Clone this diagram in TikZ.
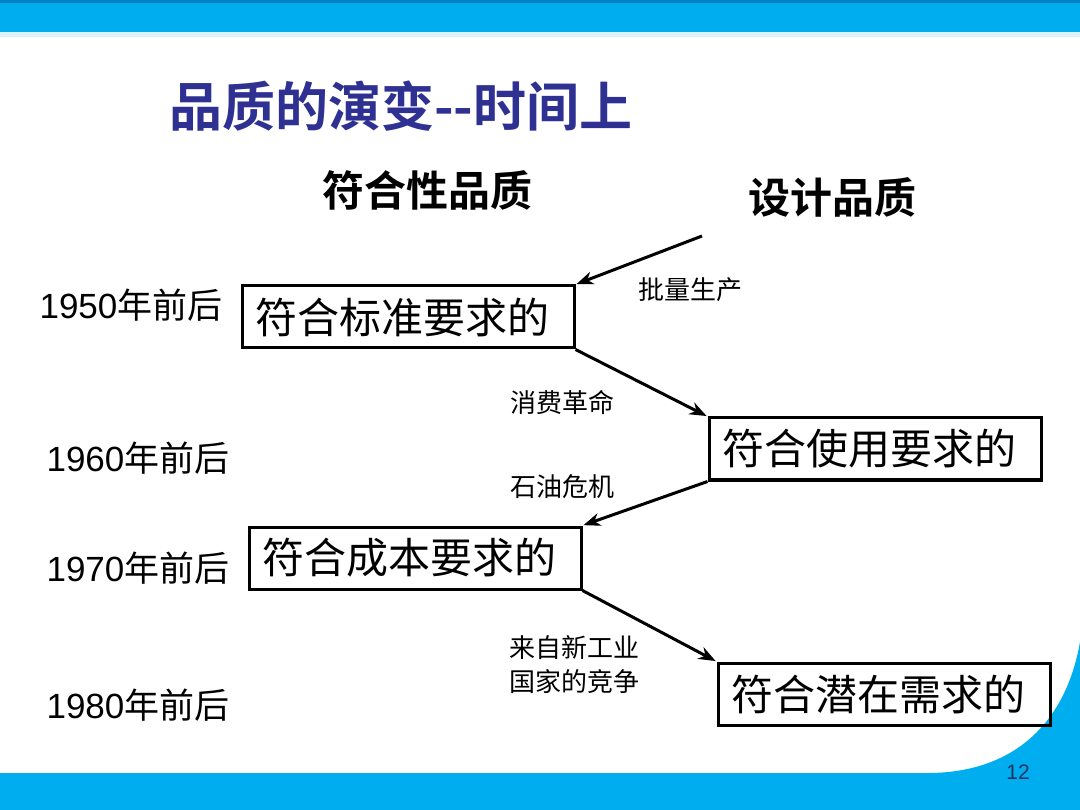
\documentclass[tikz,border=0pt]{standalone}
\usepackage{fontspec}
\setmainfont{Liberation Sans}
\newfontfamily\cjk{Noto Sans CJK SC}
\newfontfamily\cjkbold{Noto Sans CJK SC Bold}
\usetikzlibrary{arrows.meta}
\definecolor{barblue}{RGB}{0,174,239}
\definecolor{bardark}{RGB}{0,128,196}
\definecolor{barlight}{RGB}{222,242,252}
\definecolor{titleblue}{RGB}{46,49,146}
\definecolor{pagenum}{RGB}{30,50,100}
\tikzset{
  stagebox/.style={draw=black, line width=3pt, minimum height=62pt,
    text width=306pt, align=left, inner xsep=13pt, inner ysep=0pt,
    font=\cjk\fontsize{42}{48}\selectfont},
  yearlabel/.style={inner sep=0pt, font=\fontsize{35}{40}\selectfont},
  causelabel/.style={inner sep=0pt, font=\cjk\fontsize{26}{34}\selectfont},
  headlabel/.style={inner sep=0pt, font=\cjkbold\fontsize{42}{48}\selectfont},
  flowarrow/.style={line width=3pt, -{Stealth[length=17pt,width=13pt]}, shorten >=1pt}
}
\begin{document}
\begin{tikzpicture}[x=1pt,y=-1pt]
\useasboundingbox (0,0) rectangle (1080,810);
% top bar
\fill[barblue] (0,0) rectangle (1080,32);
\fill[bardark] (0,0) rectangle (1080,3);
\fill[barlight] (0,32) rectangle (1080,37);
% bottom bar with curved rise
\fill[barblue] (0,773) -- (930,773) .. controls (1015,772) and (1066,722) .. (1080,642)
  -- (1080,810) -- (0,810) -- cycle;
\node[inner sep=0pt, text=pagenum, font=\fontsize{21}{24}\selectfont] (pg) at (1018,772) {12};

% title
\node[inner sep=0pt, text=titleblue, font=\cjkbold\fontsize{53}{60}\selectfont] (title) at (401,106) {品质的演变--时间上};

% headers
\node[headlabel] (hconf) at (427,190) {符合性品质};
\node[headlabel] (hdes) at (832,197) {设计品质};

% year labels
\node[yearlabel] (y50) at (131,305) {1950\cjk 年前后};
\node[yearlabel] (y60) at (138,458) {1960\cjk 年前后};
\node[yearlabel] (y70) at (138,568) {1970\cjk 年前后};
\node[yearlabel] (y80) at (138,705) {1980\cjk 年前后};

% stage boxes
\node[stagebox] (b1) at (408,317) {符合标准要求的};
\node[stagebox] (b2) at (875,449) {符合使用要求的};
\node[stagebox] (b3) at (415,558) {符合成本要求的};
\node[stagebox] (b4) at (884,694) {符合潜在需求的};

% arrows
\coordinate (start) at (702,236);
\draw[flowarrow] (start) -- (b1.north east);
\draw[flowarrow] (b1.south east) -- (b2.north west);
\draw[flowarrow] (b2.south west) -- (b3.north east);
\draw[flowarrow] (b3.south east) -- (b4.north west);

% cause labels
\node[causelabel] (c1) at (690,290) {批量生产};
\node[causelabel] (c2) at (562,402) {消费革命};
\node[causelabel] (c3) at (562,487) {石油危机};
\node[causelabel, align=left, anchor=west] (c4) at (509,665) {来自新工业\\国家的竞争};
\end{tikzpicture}
\end{document}
